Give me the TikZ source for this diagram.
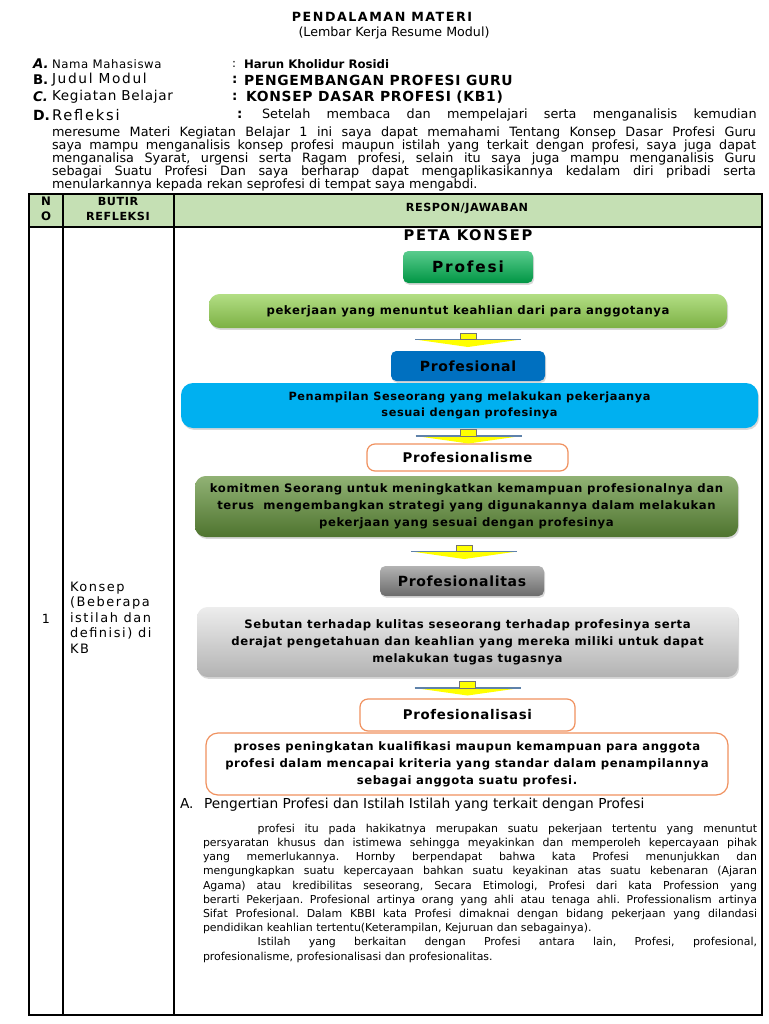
\documentclass[tikz,border=0pt]{standalone}
\usepackage{fontspec}
\setmainfont{DejaVu Sans}
\newfontfamily\spacedfont[LetterSpace=5]{DejaVu Sans}
\newfontfamily\widefont[LetterSpace=12]{DejaVu Sans}
\usepackage{xcolor}
\definecolor{headgreen}{RGB}{197,224,180}
\definecolor{termgreen}{RGB}{0,176,80}
\definecolor{limegreen}{RGB}{146,208,80}
\definecolor{deepblue}{RGB}{0,112,192}
\definecolor{skyblue}{RGB}{0,176,240}
\definecolor{mossgreen}{RGB}{98,145,58}
\definecolor{orangeline}{RGB}{240,145,95}
\definecolor{arrowyellow}{RGB}{255,255,0}
\definecolor{arrowblue}{RGB}{95,130,170}
\usetikzlibrary{calc, shadows}
\newcommand{\setfs}[2]{\fontsize{#1}{#2}\selectfont}
\frenchspacing

\begin{document}
\begin{tikzpicture}[
    x=0.75pt, y=-0.75pt,
    every node/.style={inner sep=0pt, outer sep=0pt},
    softshadow/.style={drop shadow={shadow xshift=0.8pt, shadow yshift=-1.4pt, opacity=0.3}},
    hdr/.style={align=center, font=\spacedfont\bfseries\setfs{8.4}{11.2}},
    termbox/.style={rounded corners=4pt, align=center, softshadow, font=\spacedfont\bfseries\setfs{10.5}{12}},
    defbox/.style={rounded corners=8pt, align=center, softshadow, font=\spacedfont\bfseries\setfs{8.75}{12.8}},
    orangebox/.style={draw=orangeline, line width=0.9pt, fill=white, rounded corners=6pt, align=center},
    flowdown/.pic={
      \fill[arrowyellow] (-53,0) -- (53,0) -- (0,7.5) -- cycle;
      \draw[arrowblue, line width=0.9pt] (-53,0) -- (53,0);
      \filldraw[fill=arrowyellow, draw=black!55, line width=0.3pt] (-8,-6.5) rectangle (8,0);
    }
  ]
  \useasboundingbox (0,0) rectangle (768,1024);
  \fill[white] (0,0) rectangle (768,1024);

  % Title and identity block
  \node (title) [font=\widefont\bfseries\setfs{9.5}{11}] at (382,17) {PENDALAMAN MATERI};
  \node (subtitle) [font=\setfs{9.5}{11}] at (394,33) {(Lembar Kerja Resume Modul)};

  \node (keyA) [anchor=west, font=\bfseries\itshape\setfs{10}{11}] at (33,64) {A.};
  \node (nameA) [anchor=west, font=\spacedfont\setfs{8.8}{10}] at (52,64) {Nama Mahasiswa};
  \node (colA) [anchor=west, font=\setfs{8.8}{10}] at (232,64) {:};
  \node (valA) [anchor=west, font=\bfseries\setfs{8.8}{10}] at (244,64) {Harun Kholidur Rosidi};

  \node (keyB) [anchor=west, font=\bfseries\setfs{10}{11}] at (33,80) {B.};
  \node (nameB) [anchor=west, font=\widefont\setfs{10.3}{11}] at (52,80) {Judul Modul};
  \node (colB) [anchor=west, font=\bfseries\setfs{10}{11}] at (232,80) {:};
  \node (valB) [anchor=west, font=\spacedfont\bfseries\setfs{10.4}{11}] at (244,80) {PENGEMBANGAN PROFESI GURU};

  \node (keyC) [anchor=west, font=\bfseries\itshape\setfs{10}{11}] at (33,97) {C.};
  \node (nameC) [anchor=west, font=\spacedfont\setfs{10.2}{11}] at (52,97) {Kegiatan Belajar};
  \node (colC) [anchor=west, font=\bfseries\setfs{10}{11}] at (232,97) {:};
  \node (valC) [anchor=west, font=\spacedfont\bfseries\setfs{10.4}{11}] at (246,97) {KONSEP DASAR PROFESI (KB1)};

  \node (keyD) [anchor=west, font=\bfseries\setfs{10.5}{11}] at (33,115) {D.};
  \node (nameD) [anchor=west, font=\widefont\setfs{11}{11}] at (52,115) {Refleksi};
  \node (colD) [anchor=west, font=\bfseries\setfs{10}{11}] at (237,115) {:};
  \node (refl1) [anchor=west, font=\setfs{9.6}{10.1}] at (262,115)
    {\makebox[371pt][s]{Setelah membaca dan mempelajari serta menganalisis kemudian}};
  \node (refl) [anchor=north west, text width=528pt, align=justify, font=\setfs{9.6}{9.8}] at (52,127)
    {\noindent meresume Materi Kegiatan Belajar 1 ini saya dapat memahami Tentang Konsep Dasar Profesi Guru\linebreak
     saya mampu menganalisis konsep profesi maupun istilah yang terkait dengan profesi, saya juga dapat\linebreak
     menganalisa Syarat, urgensi serta Ragam profesi, selain itu saya juga mampu menganalisis Guru\linebreak
     sebagai Suatu Profesi Dan saya berharap dapat mengaplikasikannya kedalam diri pribadi serta\linebreak
     menularkannya kepada rekan seprofesi di tempat saya mengabdi.};

  % Table frame
  \fill[headgreen] (29,194) rectangle (762,227);
  \draw[line width=0.9pt] (29,194) rectangle (762,1015);
  \draw[line width=0.9pt] (29,227) -- (762,227);
  \draw[line width=0.9pt] (63,194) -- (63,1015) (174,194) -- (174,1015);

  \node (hno) [hdr, font=\bfseries\setfs{8.8}{11.2}] at (46,209) {N\\O};
  \node (hbutir) [hdr] at (118,209) {BUTIR\\REFLEKSI};
  \node (hrespon) [font=\spacedfont\bfseries\setfs{8.4}{9}] at (467,208) {RESPON/JAWABAN};

  \node (rowno) [font=\setfs{9.5}{12}] at (46,619) {1};
  \node (rowlabel) [anchor=north west, align=left, font=\widefont\setfs{9.7}{11.6}] at (70,582)
    {Konsep\\(Beberapa\\istilah dan\\definisi) di\\KB};

  % Concept map
  \node (peta) [font=\widefont\bfseries\setfs{11}{13}] at (468,235) {PETA KONSEP};

  \node (profesi) [termbox, font=\widefont\bfseries\setfs{11.5}{13}, top color=termgreen!65!white, bottom color=termgreen!85!black,
    minimum width=97.5pt, minimum height=24pt] at (468,267) {Profesi};
  \node (def1) [defbox, top color=limegreen!70!white, bottom color=limegreen!85!black,
    minimum width=388.5pt, minimum height=25.5pt] at (468,311)
    {pekerjaan yang menuntut keahlian dari para anggotanya};

  \node (profesional) [termbox, fill=deepblue, minimum width=115.5pt, minimum height=22.5pt] at (468,366) {Profesional};
  \node (def2) [defbox, fill=skyblue, rounded corners=9pt, font=\spacedfont\bfseries\setfs{8.5}{12},
    minimum width=432.75pt, minimum height=33.75pt] at (469.5,405.5)
    {Penampilan Seseorang yang melakukan pekerjaanya\\sesuai dengan profesinya};

  \node (profesionalisme) [orangebox, font=\spacedfont\bfseries\setfs{10}{12},
    minimum width=150.75pt, minimum height=20.25pt] at (467.5,457.5) {Profesionalisme};
  \node (def3) [defbox, top color=mossgreen!70!white, bottom color=mossgreen!80!black,
    minimum width=407.25pt, minimum height=45.75pt] at (466.5,506.5)
    {komitmen Seorang untuk meningkatkan kemampuan profesionalnya dan\\
     terus \ mengembangkan strategi yang digunakannya dalam melakukan\\
     pekerjaan yang sesuai dengan profesinya};

  \node (profesionalitas) [termbox, top color=black!30, bottom color=black!58,
    minimum width=123pt, minimum height=22.5pt] at (462,581) {Profesionalitas};
  \node (def4) [defbox, top color=black!7, bottom color=black!30,
    minimum width=405.75pt, minimum height=52.5pt] at (467.5,642)
    {Sebutan terhadap kulitas seseorang terhadap profesinya serta\\
     derajat pengetahuan dan keahlian yang mereka miliki untuk dapat\\
     melakukan tugas tugasnya};

  \node (profesionalisasi) [orangebox, font=\spacedfont\bfseries\setfs{10}{12},
    minimum width=161.25pt, minimum height=24pt] at (467.5,715) {Profesionalisasi};
  \node (def5) [orangebox, rounded corners=9pt, font=\spacedfont\bfseries\setfs{8.75}{12.8},
    minimum width=391.5pt, minimum height=46.5pt] at (467,764)
    {proses peningkatan kualifikasi maupun kemampuan para anggota\\
     profesi dalam mencapai kriteria yang standar dalam penampilannya\\
     sebagai anggota suatu profesi.};

  % Block arrows between levels
  \pic at ($(def1.south)!0.5!(profesional.north)$) {flowdown};
  \pic at ($(def2.south)!0.5!(profesionalisme.north)$) {flowdown};
  \pic at ($(def3.south)!0.5!(profesionalitas.north)$) {flowdown};
  \pic at ($(def4.south)!0.5!(profesionalisasi.north)$) {flowdown};

  % Explanation text
  \node (subhead) [anchor=west, font=\setfs{10.3}{11}] at (180,805)
    {A.\hspace{8pt}Pengertian Profesi dan Istilah Istilah yang terkait dengan Profesi};
  \node (body) [anchor=north west, text width=415.5pt, align=justify, font=\setfs{8.2}{10.65}] at (203,824)
    {\noindent\hspace*{41pt}profesi itu pada hakikatnya merupakan suatu pekerjaan tertentu yang menuntut\linebreak
     persyaratan khusus dan istimewa sehingga meyakinkan dan memperoleh kepercayaan pihak\linebreak
     yang memerlukannya. Hornby berpendapat bahwa kata Profesi menunjukkan dan\linebreak
     mengungkapkan suatu kepercayaan bahkan suatu keyakinan atas suatu kebenaran (Ajaran\linebreak
     Agama) atau kredibilitas seseorang, Secara Etimologi, Profesi dari kata Profession yang\linebreak
     berarti Pekerjaan. Profesional artinya orang yang ahli atau tenaga ahli. Professionalism artinya\linebreak
     Sifat Profesional. Dalam KBBI kata Profesi dimaknai dengan bidang pekerjaan yang dilandasi\linebreak
     pendidikan keahlian tertentu(Keterampilan, Kejuruan dan sebagainya).\par
     \noindent\hspace*{41pt}Istilah yang berkaitan dengan Profesi antara lain, Profesi, profesional,\linebreak
     profesionalisme, profesionalisasi dan profesionalitas.};

\end{tikzpicture}
\end{document}
